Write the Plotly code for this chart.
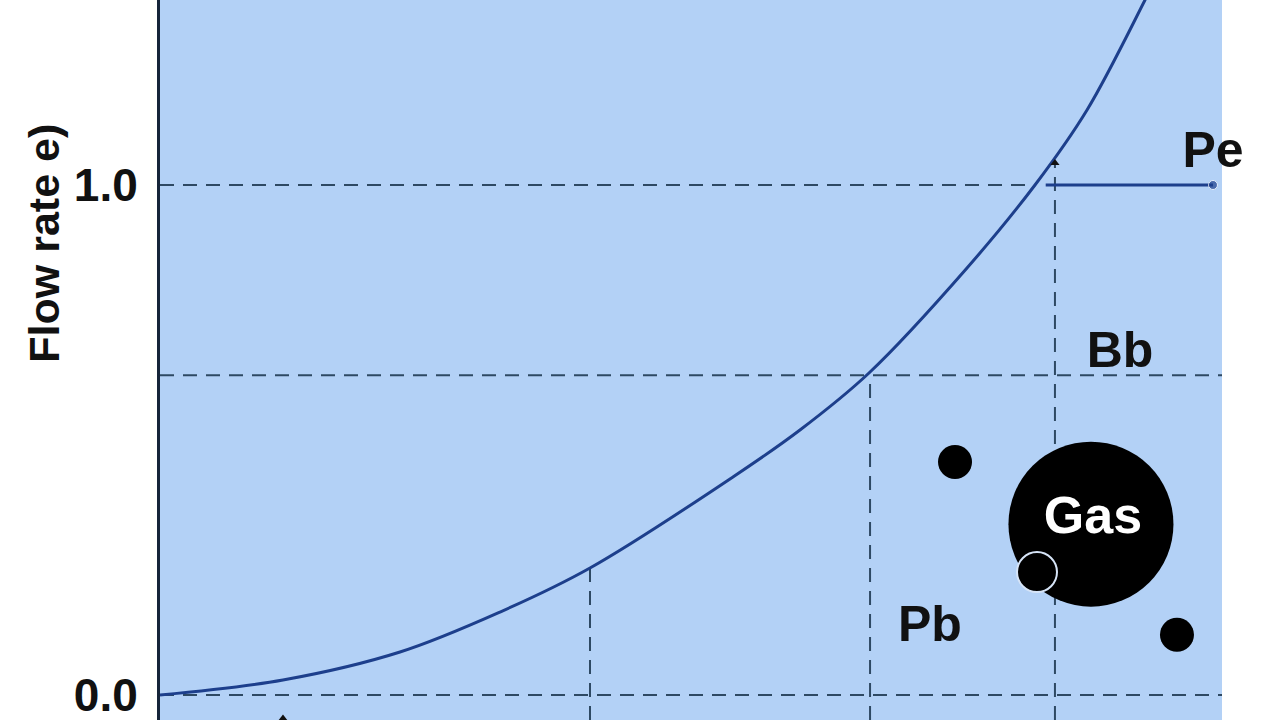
import plotly.graph_objects as go

# ---- data ----
curve_x = [0, 0.1158, 0.226, 0.3202, 0.4049, 0.5395, 0.6026, 0.6676, 0.7599, 0.8239, 0.8729, 0.9275, 0.94]
curve_y = [0, 0.0294, 0.0843, 0.1627, 0.249, 0.4275, 0.5196, 0.6314, 0.8373, 1.0, 1.1471, 1.3627, 1.415]

ytick_vals = [0.0, 1.0]
ytick_labels = ["0.0", "1.0"]

guide_h_y = [0.0, 0.627, 1.0]
guide_h_xend = [1.0, 1.0, 0.824]
guide_v_x = [0.4049, 0.6686, 0.8427]
guide_v_ytop = [0.249, 0.627, 1.043]

pe_line_x = [0.834, 0.9915]
pe_line_y = [1.0, 1.0]

bubble_x = [0.7486, 0.9576]
bubble_y = [0.457, 0.118]
gas_x = [0.8766]
gas_y = [0.335]
small_gas_x = [0.8258]
small_gas_y = [0.241]

label_text = ["Pe", "Bb", "Pb"]
label_x = [0.9915, 0.904, 0.725]
label_y = [1.059, 0.667, 0.131]
gas_label = "Gas"
gas_label_x = 0.8785
gas_label_y = 0.343

arrow_x = [0.1158, 0.8427]
arrow_y = [-0.046, 1.043]

y_title = "Flow rate e)"

# ---- styling ----
FONT = "Liberation Sans, Arial, sans-serif"
BG = "#b3d1f6"
CURVE = "#1d3f8c"
DASH = "#2e4963"
Y0, Y1 = -0.049, 1.3627

fig = go.Figure()

for y, xe in zip(guide_h_y, guide_h_xend):
    fig.add_trace(go.Scatter(x=[0, xe], y=[y, y], mode="lines",
                             line=dict(color=DASH, width=2, dash="14px,9px"),
                             hoverinfo="skip", showlegend=False))
for x, yt in zip(guide_v_x, guide_v_ytop):
    fig.add_trace(go.Scatter(x=[x, x], y=[Y0, yt], mode="lines",
                             line=dict(color=DASH, width=2, dash="14px,9px"),
                             hoverinfo="skip", showlegend=False))

fig.add_trace(go.Scatter(x=curve_x, y=curve_y, mode="lines",
                         line=dict(color=CURVE, width=3, shape="spline", smoothing=1.0),
                         hoverinfo="skip", showlegend=False))

fig.add_trace(go.Scatter(x=pe_line_x, y=pe_line_y, mode="lines+markers",
                         line=dict(color=CURVE, width=3),
                         marker=dict(size=[0, 9], color=CURVE),
                         hoverinfo="skip", showlegend=False))

fig.add_trace(go.Scatter(x=bubble_x, y=bubble_y, mode="markers",
                         marker=dict(size=34, color="black", line=dict(width=0)),
                         hoverinfo="skip", showlegend=False))
fig.add_trace(go.Scatter(x=gas_x, y=gas_y, mode="markers",
                         marker=dict(size=165, color="black", line=dict(width=0)),
                         hoverinfo="skip", showlegend=False))
fig.add_trace(go.Scatter(x=small_gas_x, y=small_gas_y, mode="markers",
                         marker=dict(size=40, color="black", line=dict(width=2, color="#d6e4f7")),
                         hoverinfo="skip", showlegend=False))

fig.add_trace(go.Scatter(x=arrow_x, y=arrow_y, mode="markers",
                         marker=dict(symbol="triangle-up", size=8, color="#111111"),
                         hoverinfo="skip", showlegend=False))

fig.add_trace(go.Scatter(x=label_x, y=label_y, mode="text", text=[f"<b>{t}</b>" for t in label_text],
                         textfont=dict(family=FONT, size=50, color="#111111"),
                         textposition="middle center", hoverinfo="skip", showlegend=False,
                         cliponaxis=False))
fig.add_trace(go.Scatter(x=[gas_label_x], y=[gas_label_y], mode="text", text=[f"<b>{gas_label}</b>"],
                         textfont=dict(family=FONT, size=52, color="white"),
                         textposition="middle center", hoverinfo="skip", showlegend=False))

fig.add_annotation(text=f"<b>{y_title}</b>", xref="paper", yref="paper",
                   x=-0.11, y=0.6618, textangle=-90, showarrow=False,
                   font=dict(family=FONT, size=43, color="#111111"),
                   xanchor="center", yanchor="middle")

fig.update_layout(
    width=1280, height=720,
    margin=dict(l=160, r=58, t=0, b=0),
    paper_bgcolor="white", plot_bgcolor=BG,
    font=dict(family=FONT, color="#111111"),
    showlegend=False,
    xaxis=dict(range=[0, 1], showgrid=False, zeroline=False, showticklabels=False,
               showline=False, ticks=""),
    yaxis=dict(range=[Y0, Y1], showgrid=False, zeroline=False,
               tickvals=ytick_vals, ticktext=[f"<b>{t}</b>" for t in ytick_labels],
               tickfont=dict(family=FONT, size=46, color="#111111"),
               ticks="", showline=True, linecolor="#15243a", linewidth=3,
               ticklabelstandoff=10, ticklabeloverflow="allow"),
)

fig.write_html("out.html", config={"displayModeBar": False},
               post_script="document.body.style.margin='0';document.body.style.overflow='hidden';")
